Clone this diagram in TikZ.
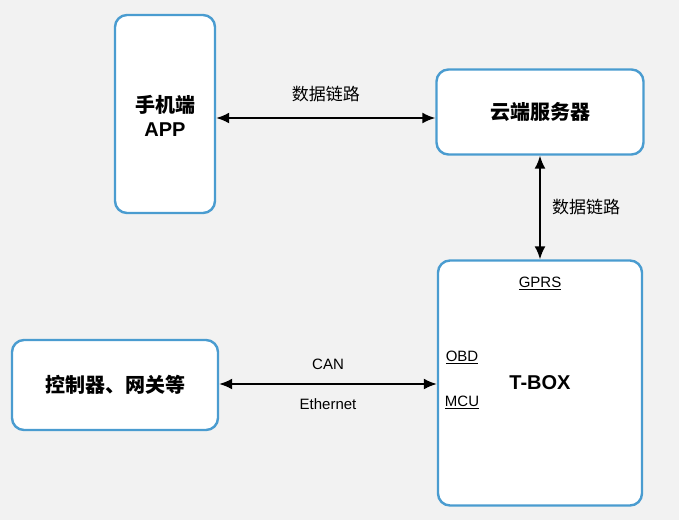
\documentclass[tikz,border=0pt]{standalone}
\usepackage{fontspec}
\usetikzlibrary{arrows.meta}
\setmainfont{Liberation Sans}
\newfontfamily\cjk{Noto Sans CJK SC}
\definecolor{bord}{HTML}{4A9CD0}
\begin{document}
\begin{tikzpicture}[x=1pt,y=-1pt,
  box/.style={draw=bord,line width=2.4pt,fill=white,rounded corners=12pt},
  lbl/.style={font=\cjk\fontsize{17}{19}\selectfont},
  title/.style={font=\bfseries\fontsize{20}{24}\selectfont,align=center},
  small/.style={font=\fontsize{15}{17}\selectfont},
  arr/.style={{Latex[length=13pt,width=11pt]}-{Latex[length=13pt,width=11pt]},line width=1.8pt}]
\fill[gray!10] (0,0) rectangle (679,520);
\useasboundingbox (0,0) rectangle (679,520);
\node[box,minimum width=100,minimum height=198] (app) at (165,114) {};
\node[title] at (165,116) {{\cjk 手机端}\\APP};
\node[box,minimum width=207,minimum height=85] (cloud) at (540,112) {};
\node[title] at (cloud) {\cjk 云端服务器};
\node[box,minimum width=206,minimum height=90] (ctrl) at (115,385) {};
\node[title] at (ctrl) {\cjk 控制器、网关等};
\node[box,minimum width=204,minimum height=245] (tbox) at (540,383) {};
\node[title] at (540,383) {T-BOX};
\node[small] (gprs) at (540,283) {\underline{GPRS}};
\node[small] (obd) at (462,357) {\underline{OBD}};
\node[small] (mcu) at (462,402) {\underline{MCU}};
\draw[arr] (app.east|-0,118) -- node[lbl,above=12pt]{数据链路} (cloud.west|-0,118);
\draw[arr] (cloud.south) -- node[lbl,right=8pt]{数据链路} (tbox.north);
\draw[arr] (ctrl.east|-0,384) -- node[small,above=10pt]{CAN} node[small,below=10pt]{Ethernet} (tbox.west|-0,384);
\end{tikzpicture}
\end{document}
